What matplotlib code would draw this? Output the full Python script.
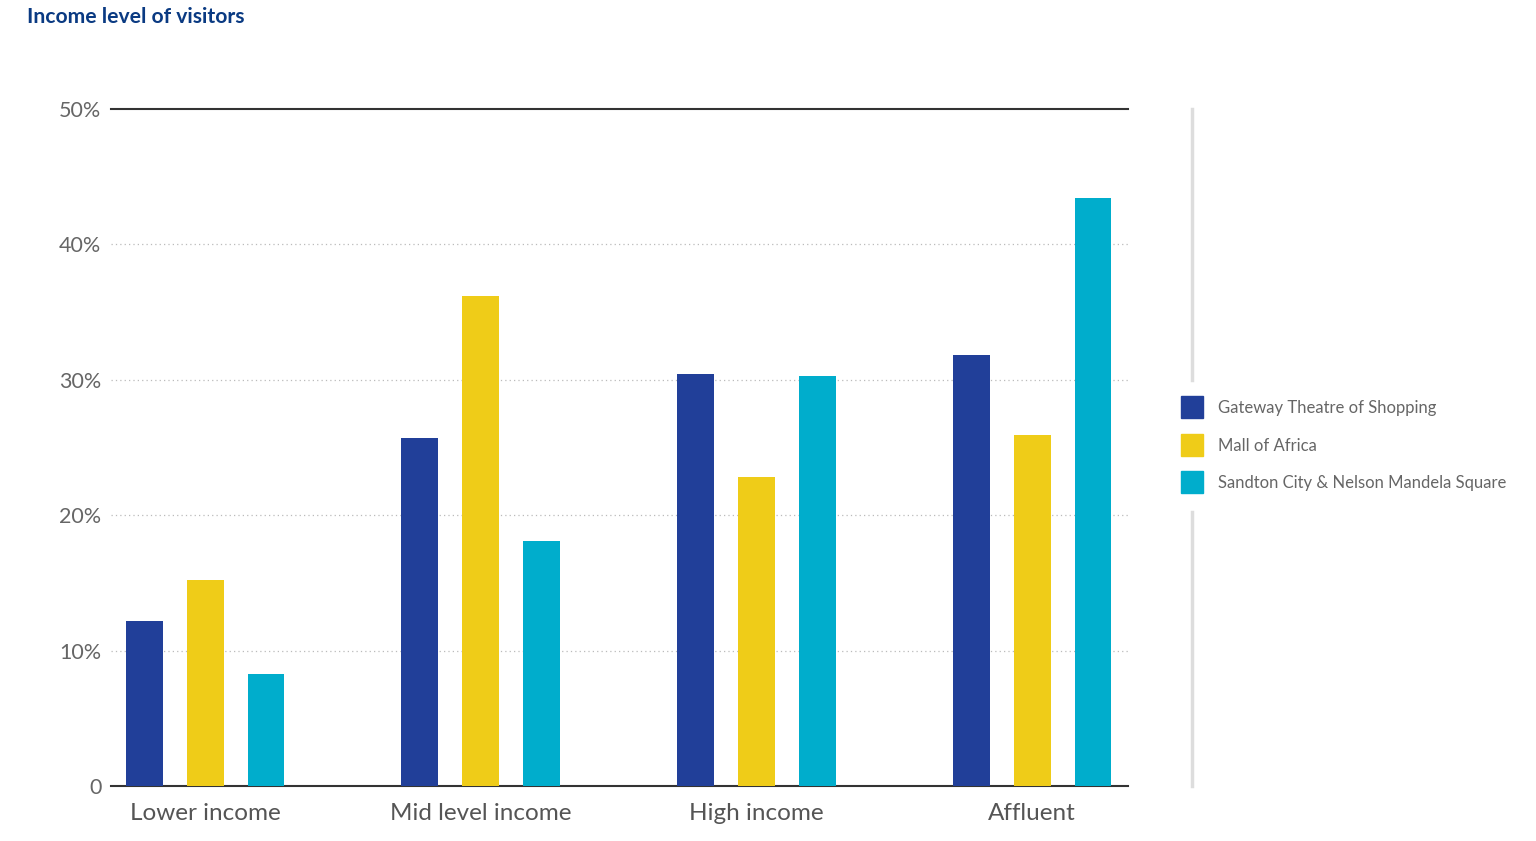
import numpy as np
import matplotlib.pyplot as plt
from matplotlib.patches import Rectangle
from matplotlib.lines import Line2D

plt.rcParams['font.family'] = ['Lato', 'DejaVu Sans']

# data
categories = ["Lower income", "Mid level income", "High income", "Affluent"]
series_names = ["Gateway Theatre of Shopping", "Mall of Africa",
                "Sandton City & Nelson Mandela Square"]
gateway = [12.2, 25.7, 30.4, 31.8]
mall_of_africa = [15.2, 36.2, 22.8, 25.9]
sandton = [8.3, 18.1, 30.3, 43.4]
y_ticks = [0, 10, 20, 30, 40, 50]
y_tick_labels = ["0", "10%", "20%", "30%", "40%", "50%"]

colors = ["#213f99", "#efcc18", "#00adcc"]
series = [gateway, mall_of_africa, sandton]

fig = plt.figure(figsize=(15.36, 8.41), dpi=100)
ax = fig.add_axes([0.0723, 0.0654, 0.6621, 0.8050])

x = np.arange(len(categories))
offset = 0.221
width = 0.134
for i, (vals, c) in enumerate(zip(series, colors)):
    ax.bar(x + (i - 1) * offset, vals, width, color=c, zorder=3)

ax.set_xlim(-0.341, 3.348)
ax.set_ylim(0, 50)
ax.set_yticks(y_ticks)
ax.set_yticklabels(y_tick_labels, fontsize=15.5, color="#666666")
for lab in ax.get_yticklabels():
    lab.set_va("center_baseline")
ax.set_xticks(x)
ax.set_xticklabels(categories, fontsize=17.5, color="#555555")
ax.tick_params(axis="both", length=0)
ax.tick_params(axis="y", pad=7)
ax.tick_params(axis="x", pad=12)

for v in y_ticks[1:-1]:
    ax.axhline(v, color="#bbbbbb", lw=0.9, ls=(0, (1, 2.5)), zorder=1)

for side in ["left", "right"]:
    ax.spines[side].set_visible(False)
for side in ["top", "bottom"]:
    ax.spines[side].set_color("#333333")
    ax.spines[side].set_linewidth(1.5)

fig.text(27 / 1536, 1 - 17 / 841, "Income level of visitors", fontsize=15.2,
         fontweight="bold", color="#0a3a82", va="center", ha="left")

# legend separator line with a gap for the legend entries
sep_x = 1192 / 1536
fig.add_artist(Line2D([sep_x, sep_x], [1 - 109 / 841, 1 - 380 / 841],
                      color="#dddddd", lw=2.5))
fig.add_artist(Line2D([sep_x, sep_x], [1 - 512 / 841, 1 - 786 / 841],
                      color="#dddddd", lw=2.5))

legend_y = [407, 445, 482]
for name, c, yy in zip(series_names, colors, legend_y):
    fig.add_artist(Rectangle((1181 / 1536, 1 - (yy + 11) / 841), 22 / 1536, 22 / 841,
                             color=c, transform=fig.transFigure))
    fig.text(1218 / 1536, 1 - (yy + 1) / 841, name, fontsize=12, color="#666666",
             va="center", ha="left")

fig.savefig("out.png", dpi=100)
